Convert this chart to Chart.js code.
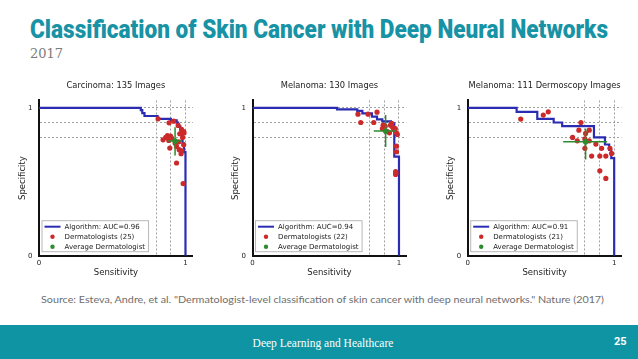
<!DOCTYPE html>
<html>
<head>
<meta charset="utf-8">
<script src="https://cdn.jsdelivr.net/npm/chart.js@4.4.1/dist/chart.umd.min.js"></script>
<style>
  html, body { margin: 0; padding: 0; }
  body { width: 638px; height: 359px; position: relative; overflow: hidden; background: #ffffff; }
  #title { position: absolute; left: 30px; top: 16px; font-family: Roboto, "DejaVu Sans", sans-serif; font-weight: 900;
           font-size: 26px; line-height: 26px; color: #1793a5; white-space: nowrap; transform-origin: 0 0; }
  #year { position: absolute; left: 30px; top: 47px; font-family: "DejaVu Serif", serif; font-size: 13px; line-height: 13px;
          color: #7c7c7c; white-space: nowrap; }
  canvas { position: absolute; top: 75px; }
  #source { position: absolute; left: 41px; top: 292.5px; font-family: Lato, "Open Sans", sans-serif; font-size: 10px; line-height: 13px;
            color: #6e6e6e; white-space: nowrap; transform-origin: 0 0; }
  #footer { position: absolute; left: 0; top: 325px; width: 638px; height: 34px; background: #0e94a2; }
  #footText { position: absolute; left: 0; width: 646px; top: 0; line-height: 36px; text-align: center; color: #ffffff;
              font-family: "Liberation Serif", serif; font-size: 11.5px; }
  #pageNo { position: absolute; left: 614px; top: 0; line-height: 34px; color: #ffffff; font-family: Roboto, sans-serif;
            font-weight: 700; font-size: 11px; }
</style>
</head>
<body>
<div id="title">Classification of Skin Cancer with Deep Neural Networks</div>
<div id="year">2017</div>
<canvas id="c1" width="188" height="210" style="left:10px"></canvas>
<canvas id="c2" width="189" height="210" style="left:223px"></canvas>
<canvas id="c3" width="188" height="210" style="left:439px"></canvas>
<div id="source">Source: Esteva, Andre, et al. "Dermatologist-level classification of skin cancer with deep neural networks." Nature (2017)</div>
<div id="footer"><div id="footText">Deep Learning and Healthcare</div><div id="pageNo">25</div></div>
<script>
// ---------- DATA ----------
const chartTitles = ['Carcinoma: 135 Images', 'Melanoma: 130 Images', 'Melanoma: 111 Dermoscopy Images'];
const algorithmLabels = ['Algorithm: AUC=0.96', 'Algorithm: AUC=0.94', 'Algorithm: AUC=0.91'];
const dermatologistLabels = ['Dermatologists (25)', 'Dermatologists (22)', 'Dermatologists (21)'];
const averageLabel = 'Average Dermatologist';
const xAxisTitle = 'Sensitivity';
const yAxisTitle = 'Specificity';
const axisMax = 1.05;
const gridValues = [0, 0.8, 0.9, 1];
const labelledTicks = [0, 1];

// Carcinoma ROC curve (sensitivity, specificity)
const carcRocSens = [0, 0.695, 0.705, 0.72, 0.81, 0.90, 0.94, 0.95, 0.965, 0.975, 0.98, 0.99, 1.0];
const carcRocSpec = [1, 0.985, 0.965, 0.945, 0.926, 0.915, 0.90, 0.875, 0.85, 0.83, 0.76, 0.70, 0.0];
const carcDermSens = [0.813, 0.888, 0.920, 0.950, 0.973, 0.988, 0.961, 0.877, 0.898, 0.847, 0.886, 0.905, 0.939,
                      0.957, 0.975, 0.893, 0.970, 0.988, 0.939, 0.984, 0.980, 0.930, 0.990, 0.865, 0.955];
const carcDermSpec = [0.926, 0.899, 0.910, 0.881, 0.854, 0.840, 0.825, 0.813, 0.809, 0.784, 0.780, 0.795, 0.739,
                      0.717, 0.710, 0.728, 0.690, 0.750, 0.627, 0.488, 0.800, 0.760, 0.830, 0.800, 0.770];
const carcAvg = [0.929, 0.775];
const carcAvgSensRange = [0.882, 0.977];
const carcAvgSpecRange = [0.678, 0.869];

// Melanoma (130 images)
const melRocSens = [0, 0.577, 0.715, 0.75, 0.815, 0.85, 0.886, 0.945, 0.968, 1.0];
const melRocSpec = [1, 0.99, 0.98, 0.962, 0.94, 0.922, 0.908, 0.895, 0.67, 0.0];
const melDermSens = [0.720, 0.789, 0.850, 0.739, 0.828, 0.892, 0.906, 0.942, 0.955, 0.935, 0.983, 0.965, 0.983,
                     0.983, 0.977, 0.977, 0.980, 0.921, 0.950, 0.887, 0.975, 0.989];
const melDermSpec = [0.957, 0.957, 0.971, 0.901, 0.901, 0.883, 0.876, 0.883, 0.870, 0.831, 0.831, 0.855, 0.741,
                     0.703, 0.568, 0.550, 0.560, 0.840, 0.895, 0.860, 0.860, 0.820];
const melAvg = [0.909, 0.843];
const melAvgSensRange = [0.828, 0.980];
const melAvgSpecRange = [0.735, 0.951];

// Melanoma dermoscopy (111 images)
const dscRocSens = [0, 0.334, 0.475, 0.587, 0.645, 0.862, 0.937, 0.966, 0.98, 1.0];
const dscRocSpec = [1, 0.973, 0.925, 0.901, 0.876, 0.80, 0.752, 0.715, 0.66, 0.0];
const dscDermSens = [0.362, 0.516, 0.550, 0.773, 0.759, 0.830, 0.805, 0.716, 0.748, 0.830, 0.800, 0.875, 0.914,
                     0.971, 0.846, 0.902, 0.943, 0.982, 0.902, 0.943, 0.800];
const dscDermSpec = [0.924, 0.951, 0.973, 0.901, 0.849, 0.849, 0.827, 0.800, 0.777, 0.777, 0.726, 0.755, 0.726,
                     0.726, 0.674, 0.674, 0.674, 0.692, 0.574, 0.523, 0.790];
const dscAvg = [0.805, 0.770];
const dscAvgSensRange = [0.652, 0.952];
const dscAvgSpecRange = [0.651, 0.861];

// ---------- STYLE / LAYOUT ----------
const BLUE = '#2a2db2', RED = '#cc2a2a', GREEN = '#2e8b2e', GRID = '#a0a0a0', INK = '#222222';
const panels = [
  { id: 'c1', yAxisWidth: 29,   yTitlePad: 7.6, padRight: 5.2 },
  { id: 'c2', yAxisWidth: 29.5, yTitlePad: 7.6, padRight: 5.7 },
  { id: 'c3', yAxisWidth: 28.7, yTitlePad: 6.6, padRight: 5.5 }
];
const series = [
  { rs: carcRocSens, rp: carcRocSpec, ds: carcDermSens, dp: carcDermSpec, avg: carcAvg, sr: carcAvgSensRange, pr: carcAvgSpecRange },
  { rs: melRocSens,  rp: melRocSpec,  ds: melDermSens,  dp: melDermSpec,  avg: melAvg,  sr: melAvgSensRange,  pr: melAvgSpecRange },
  { rs: dscRocSens,  rp: dscRocSpec,  ds: dscDermSens,  dp: dscDermSpec,  avg: dscAvg,  sr: dscAvgSensRange,  pr: dscAvgSpecRange }
];

Chart.defaults.font.family = '"DejaVu Sans", sans-serif';
Chart.defaults.color = INK;

const zip = (xs, ys) => xs.map((x, i) => ({ x: x, y: ys[i] }));

const rocLegend = {
  id: 'rocLegend',
  afterDatasetsDraw(chart) {
    const ca = chart.chartArea, ctx = chart.ctx;
    const items = chart.data.datasets.filter(d => d.legendKind);
    items.sort((a, b) => a.legendRank - b.legendRank);
    ctx.save();
    ctx.font = '7px "DejaVu Sans"';
    const textW = Math.max.apply(null, items.map(d => ctx.measureText(d.label).width));
    const rowH = 10, h = 31;
    const w = 23 + textW + 3;
    const x0 = ca.left + 2.5, y0 = ca.bottom - 4.5 - h;
    ctx.fillStyle = '#ffffff';
    ctx.fillRect(x0, y0, w, h);
    ctx.strokeStyle = '#b8b8b8';
    ctx.lineWidth = 1;
    ctx.strokeRect(x0 + 0.5, y0 + 0.5, w, h);
    items.forEach((d, i) => {
      const cy = y0 + 6.5 + i * rowH;
      if (d.legendKind === 'line') {
        ctx.strokeStyle = d.borderColor; ctx.lineWidth = 2;
        ctx.beginPath(); ctx.moveTo(x0 + 3, cy); ctx.lineTo(x0 + 19, cy); ctx.stroke();
      } else {
        ctx.fillStyle = d.backgroundColor;
        ctx.beginPath(); ctx.arc(x0 + 11, cy, 2.2, 0, Math.PI * 2); ctx.fill();
      }
      ctx.fillStyle = INK; ctx.textBaseline = 'middle'; ctx.textAlign = 'left';
      ctx.fillText(d.label, x0 + 23, cy);
    });
    ctx.restore();
  }
};

function axis(isX, panel) {
  const cfg = {
    type: 'linear', min: 0, max: axisMax,
    afterBuildTicks: s => { s.ticks = gridValues.map(v => ({ value: v })); },
    ticks: {
      autoSkip: false, padding: isX ? 3 : 6.5, font: { size: 7 }, color: INK, maxRotation: 0,
      callback: v => labelledTicks.includes(v) ? String(v) : ''
    },
    grid: {
      drawTicks: false, lineWidth: 1,
      color: c => (c.tick && c.tick.value === 0) ? 'rgba(0,0,0,0)' : GRID
    },
    border: { display: true, color: '#111111', width: 2, dash: [2, 2] },
    title: {
      display: true, text: isX ? xAxisTitle : yAxisTitle, font: { size: 8.5 }, color: INK,
      padding: isX ? { top: 0, bottom: 7.4 } : { top: panel.yTitlePad, bottom: 0 }
    }
  };
  if (isX) { cfg.position = 'bottom'; cfg.afterFit = s => { s.height = 29.3; }; }
  else { cfg.position = 'left'; cfg.afterFit = s => { s.width = panel.yAxisWidth; }; }
  return cfg;
}

panels.forEach((p, k) => {
  const s = series[k];
  new Chart(document.getElementById(p.id), {
    type: 'scatter',
    data: {
      datasets: [
        { type: 'line', label: algorithmLabels[k], data: zip(s.rs, s.rp), stepped: 'before', borderColor: BLUE,
          borderWidth: 2.2, pointRadius: 0, fill: false, order: 4, legendKind: 'line', legendRank: 0 },
        { type: 'scatter', label: dermatologistLabels[k], data: zip(s.ds, s.dp), backgroundColor: RED,
          borderWidth: 0, pointRadius: 2.6, order: 3, legendKind: 'dot', legendRank: 1 },
        { type: 'line', label: 'sens-range', data: zip(s.sr, [s.avg[1], s.avg[1]]), borderColor: GREEN,
          borderWidth: 1.5, pointRadius: 0, order: 2 },
        { type: 'line', label: 'spec-range', data: zip([s.avg[0], s.avg[0]], s.pr), borderColor: GREEN,
          borderWidth: 1.5, pointRadius: 0, order: 1 },
        { type: 'scatter', label: averageLabel, data: [{ x: s.avg[0], y: s.avg[1] }], backgroundColor: GREEN,
          borderWidth: 0, pointRadius: 2.8, order: 0, legendKind: 'dot', legendRank: 2 }
      ]
    },
    options: {
      responsive: false, animation: false, devicePixelRatio: 1,
      layout: { padding: { left: 0, right: p.padRight, top: 0, bottom: 0 } },
      scales: { x: axis(true, p), y: axis(false, p) },
      plugins: {
        legend: { display: false },
        tooltip: { enabled: false },
        title: { display: true, text: chartTitles[k], fullSize: false, color: INK,
                 font: { size: 8.3, weight: 'normal' }, padding: { top: 5.6, bottom: 9.9 } }
      }
    },
    plugins: [rocLegend]
  });
});

// fit header / source widths
(function fit() {
  const t = document.getElementById('title');
  t.style.transform = 'scaleX(' + (578 / t.getBoundingClientRect().width) + ')';
  const src = document.getElementById('source');
  src.style.transform = 'scaleX(' + (563 / src.getBoundingClientRect().width) + ')';
})();
</script>
</body>
</html>
